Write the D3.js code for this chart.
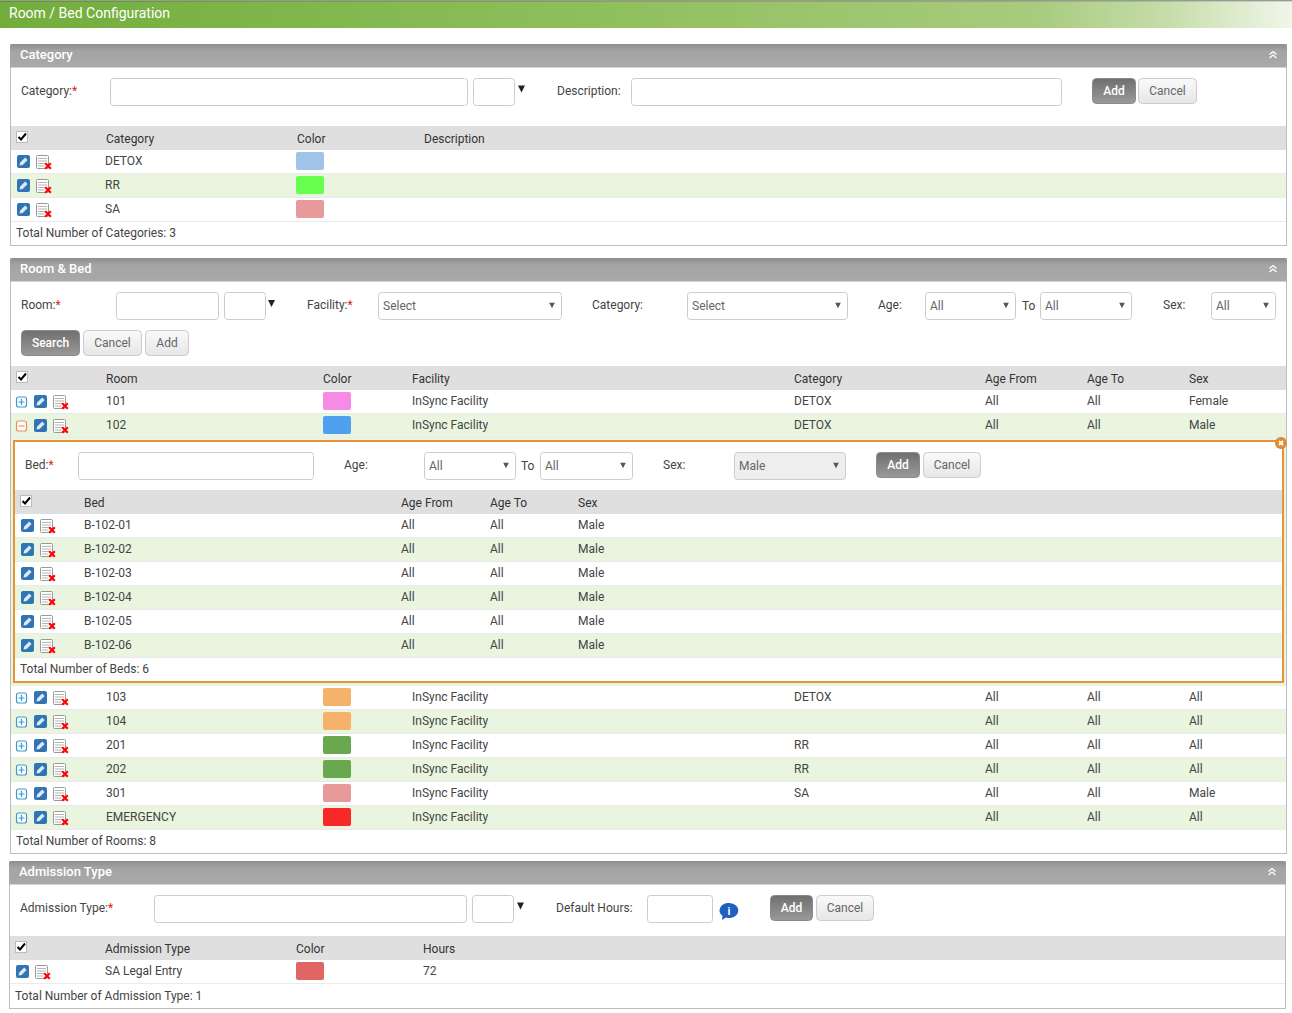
<!DOCTYPE html>
<html><head><meta charset="utf-8">
<script src="https://cdn.jsdelivr.net/npm/d3@7"></script>
<style>
html,body{margin:0;padding:0;background:#fff;overflow:hidden}
svg{display:block}
text{font-family:Roboto,sans-serif;font-size:12px;fill:#444}
</style></head><body>
<script>
// ---- data ----
const pageTitle = "Room / Bed Configuration";
const categoryNames = ["DETOX","RR","SA"];
const categoryColors = ["#a0c4e8","#66ff4d","#e89a9a"];
const roomNamesTop = ["101","102"];
const roomColorsTop = ["#f68ae6","#50a0f0"];
const roomCatsTop = ["DETOX","DETOX"];
const roomSexTop = ["Female","Male"];
const roomNamesBottom = ["103","104","201","202","301","EMERGENCY"];
const roomColorsBottom = ["#f5b26b","#f5b26b","#6aa84f","#6aa84f","#e89a9a","#f82828"];
const roomCatsBottom = ["DETOX","","RR","RR","SA",""];
const roomSexBottom = ["All","All","All","All","Male","All"];
const bedNames = ["B-102-01","B-102-02","B-102-03","B-102-04","B-102-05","B-102-06"];
const admissionNames = ["SA Legal Entry"];
const admissionColors = ["#e06666"];
const admissionHours = ["72"];

const W = 1292, H = 1013;
const svg = d3.select("body").append("svg").attr("width",W).attr("height",H);
const defs = svg.append("defs");
function grad(id,stops,horiz){
  const g = defs.append("linearGradient").attr("id",id).attr("x1",0).attr("y1",0)
    .attr("x2",horiz?1:0).attr("y2",horiz?0:1);
  stops.forEach(s=>g.append("stop").attr("offset",s[0]).attr("stop-color",s[1]));
}
grad("gPage",[[0,"#72ad3c"],[.46,"#8fbf5c"],[.8,"#a8cb7e"],[.9,"#c4dca8"],[1,"#f0f6e8"]],true);
grad("gHead",[[0,"#8e8e8e"],[.3,"#a4a4a4"],[1,"#a9a9a9"]]);
grad("gDark",[[0,"#6f6f6f"],[1,"#9a9a9a"]]);
grad("gLight",[[0,"#fafafa"],[1,"#e6e6e6"]]);

function txt(x,y,s,o={}){
  return svg.append("text").attr("x",x).attr("y",y).text(s)
    .style("font-size",o.size?o.size+"px":null).style("fill",o.fill||null)
    .style("font-weight",o.weight||null);
}
function rect(x,y,w,h,fill,o={}){
  return svg.append("rect").attr("x",x).attr("y",y).attr("width",w).attr("height",h)
    .attr("fill",fill).attr("stroke",o.stroke||"none").attr("rx",o.r||0);
}
function label(x,y,s,req){
  const t = txt(x,y,s);
  if(req) t.append("tspan").text("*").style("fill","#e02020");
}
function input(x0,x1,y0,y1,fill){
  rect(x0+.5,y0+.5,x1-x0-1,y1-y0-1,fill||"#fff",{stroke:"#ccc",r:3});
}
function select(x0,x1,y0,y1,s,fill){
  input(x0,x1,y0,y1,fill);
  txt(x0+5,y0+18,s,{fill:"#666"});
  const cx=x1-10, cy=y0+13.5;
  svg.append("path").attr("d",`M${cx-2.8},${cy-2.8}H${cx+2.8}L${cx},${cy+2.8}Z`).attr("fill","#555");
}
function arrow(cx,cy){
  svg.append("path").attr("d",`M${cx-3.5},${cy-3.5}H${cx+3.5}L${cx},${cy+3.5}Z`).attr("fill","#222");
}
function btnDark(x0,x1,y0,y1,s){
  rect(x0+.5,y0+.5,x1-x0-1,y1-y0-1,"url(#gDark)",{stroke:"#8a8a8a",r:4});
  txt((x0+x1)/2,y0+17,s,{fill:"#fff",weight:500}).attr("text-anchor","middle");
}
function btnLight(x0,x1,y0,y1,s){
  rect(x0+.5,y0+.5,x1-x0-1,y1-y0-1,"url(#gLight)",{stroke:"#ccc",r:4});
  txt((x0+x1)/2,y0+17,s,{fill:"#666"}).attr("text-anchor","middle");
}
function checkbox(x,y){
  rect(x+.5,y+.5,11,11,"#fff",{stroke:"#bbb"});
  svg.append("path").attr("d",`M${x+2.5},${y+6}l2.5,2.5l5,-6`).attr("fill","none").attr("stroke","#000").attr("stroke-width",2);
}
function editIcon(x,y){
  rect(x,y,13,13,"#2f74b5",{r:2});
  svg.append("path").attr("d",`M${x+2.5},${y+10.5}l.7,-3l5,-5l2.4,2.4l-5,5z`).attr("fill","#dfe8f2");
}
function delIcon(x,y){
  rect(x+.5,y+.5,12,13,"#fff",{stroke:"#999",r:1});
  svg.append("path").attr("d",`M${x+2},${y+3.5}h9M${x+2},${y+6}h9M${x+2},${y+8.5}h8M${x+2},${y+11}h6`).attr("stroke","#b4b4b4").attr("fill","none");
  svg.append("path").attr("d",`M${x+9.2},${y+8.2}l5.6,5.6M${x+14.8},${y+8.2}l-5.6,5.6`).attr("stroke","#f00").attr("stroke-width",2.1);
}
function treeIcon(x,y,plus){
  const c = plus?"#3a9bd0":"#ea8f5c";
  rect(x+.5,y+.5,10,10,"#fff",{stroke:c,r:2}).attr("stroke-width",1.2);
  svg.append("path").attr("d",plus?`M${x+2.5},${y+5.5}h6M${x+5.5},${y+2.5}v6`:`M${x+2.5},${y+5.5}h6`).attr("stroke",c).attr("fill","none").attr("stroke-width",1.2);
}
function panelFrame(x0,x1,y0,y1,title,titleX){
  rect(x0+.5,y0+.5,x1-x0-1,y1-y0-1,"#fff",{stroke:"#bdbdbd"});
  svg.append("path").attr("d",`M${x0},${y0+23.5}V${y0+3}a3,3 0 0 1 3,-3H${x1-3}a3,3 0 0 1 3,3V${y0+23.5}Z`).attr("fill","url(#gHead)");
  txt(titleX,y0+15,title,{fill:"#fff",size:13,weight:500});
  const cx=x1-14, cy=y0+11;
  svg.append("path").attr("d",`M${cx-3.5},${cy-.5}l3.5,-3l3.5,3M${cx-3.5},${cy+3}l3.5,-3l3.5,3`).attr("fill","none").attr("stroke","#fff").attr("stroke-width",1.3);
}
function headerRow(x0,x1,y0,y1){ rect(x0,y0,x1-x0,y1-y0,"#e0dfe0"); }

function table(o){
  o.names.forEach((k,i)=>{
    const y=o.y(k), b=o.y.bandwidth();
    const striped=(i+(o.zebra||0))%2===1;
    if(striped) rect(o.xL,y,o.xR-o.xL,b,"#e9f5df");
    svg.append("line").attr("x1",o.xL).attr("x2",o.xR).attr("y1",y+b-.5).attr("y2",y+b-.5).attr("stroke","#eaeaea");
    o.cells(k,i,y);
  });
}

// ---- page header ----
rect(0,0,W,28,"url(#gPage)");
rect(0,0,W,1,"#999");
rect(0,1,W,1,"#000").attr("opacity",.12);
txt(9,18,pageTitle,{fill:"#fff",size:14});

// ---- Category ----
panelFrame(10,1287,44,246,"Category",20);
label(21,95,"Category:",true);
input(110,468,78,106);
input(473,515,78,106);
arrow(521.5,89);
label(557,95,"Description:");
input(631,1062,78,106);
btnDark(1092,1136,78,104,"Add");
btnLight(1138,1197,78,104,"Cancel");
headerRow(11,1286,126,150);
checkbox(16,131);
const catX = d3.scaleOrdinal(["name","color","desc"],[106,297,424]);
txt(catX("name"),143,"Category",{fill:"#333"});
txt(catX("color"),143,"Color",{fill:"#333"});
txt(catX("desc"),143,"Description",{fill:"#333"});
const catY = d3.scaleBand(categoryNames,[150,222]);
table({names:categoryNames,y:catY,xL:11,xR:1286,cells:(k,i,y)=>{
  editIcon(17,y+5); delIcon(36,y+5);
  txt(catX("name")-1,y+15,k);
  rect(catX("color")-1,y+2,28,18,categoryColors[i],{r:2});
}});
txt(16,237,`Total Number of Categories: ${categoryNames.length}`);

// ---- Room & Bed ----
panelFrame(10,1287,258,854,"Room & Bed",20);
label(21,309,"Room:",true);
input(116,219,292,320);
input(224,266,292,320);
arrow(271.5,303.5);
label(307,309,"Facility:",true);
select(378,562,292,320,"Select");
label(592,309,"Category:");
select(687,848,292,320,"Select");
label(878,309,"Age:");
select(925,1016,292,320,"All");
label(1022,310,"To");
select(1040,1132,292,320,"All");
label(1163,309,"Sex:");
select(1211,1276,292,320,"All");
btnDark(21,80,330,356,"Search");
btnLight(83,142,330,356,"Cancel");
btnLight(145,189,330,356,"Add");
headerRow(11,1286,366,390);
checkbox(16,371);
const roomCols = ["Room","Color","Facility","Category","Age From","Age To","Sex"];
const roomX = d3.scaleOrdinal(roomCols,[106,323,412,794,985,1087,1189]);
roomCols.forEach(c=>txt(roomX(c),383,c,{fill:"#333"}));
function roomRow(k,y,color,cat,sex,expanded){
  treeIcon(16,y+6.5,!expanded);
  editIcon(34,y+5); delIcon(53,y+5);
  txt(roomX("Room"),y+15,k);
  rect(roomX("Color"),y+2,28,18,color,{r:2});
  txt(roomX("Facility"),y+15,"InSync Facility");
  txt(roomX("Category"),y+15,cat);
  txt(roomX("Age From"),y+15,"All");
  txt(roomX("Age To"),y+15,"All");
  txt(roomX("Sex"),y+15,sex);
}
const roomYTop = d3.scaleBand(roomNamesTop,[390,438]);
table({names:roomNamesTop,y:roomYTop,xL:11,xR:1286,cells:(k,i,y)=>
  roomRow(k,y,roomColorsTop[i],roomCatsTop[i],roomSexTop[i],k==="102")});

// nested beds
rect(11,438,1275,248,"#e9f5df");
rect(14,441,1269,241,"#fff",{stroke:"#e8923a"}).attr("stroke-width",2);
svg.append("circle").attr("cx",1281).attr("cy",443).attr("r",6).attr("fill","#dd8a3a");
svg.append("path").attr("d","M1279,441l4,4M1283,441l-4,4").attr("stroke","#fff").attr("stroke-width",1.8);
label(25,469,"Bed:",true);
input(78,314,452,480);
label(344,469,"Age:");
select(424,516,452,480,"All");
label(521,470,"To");
select(540,633,452,480,"All");
label(663,469,"Sex:");
select(734,846,452,480,"Male","#eee");
btnDark(876,920,452,478,"Add");
btnLight(923,981,452,478,"Cancel");
headerRow(15,1282,490,514);
checkbox(20,495);
const bedCols = ["Bed","Age From","Age To","Sex"];
const bedX = d3.scaleOrdinal(bedCols,[84,401,490,578]);
bedCols.forEach(c=>txt(bedX(c),507,c,{fill:"#333"}));
const bedY = d3.scaleBand(bedNames,[514,658]);
table({names:bedNames,y:bedY,xL:15,xR:1282,cells:(k,i,y)=>{
  editIcon(21,y+5); delIcon(40,y+5);
  txt(bedX("Bed"),y+15,k);
  txt(bedX("Age From"),y+15,"All");
  txt(bedX("Age To"),y+15,"All");
  txt(bedX("Sex"),y+15,"Male");
}});
txt(20,673,`Total Number of Beds: ${bedNames.length}`);

const roomYBot = d3.scaleBand(roomNamesBottom,[686,830]);
table({names:roomNamesBottom,y:roomYBot,xL:11,xR:1286,cells:(k,i,y)=>
  roomRow(k,y,roomColorsBottom[i],roomCatsBottom[i],roomSexBottom[i],false)});
txt(16,845,`Total Number of Rooms: ${roomNamesTop.length+roomNamesBottom.length}`);

// ---- Admission Type ----
panelFrame(9,1286,861,1009,"Admission Type",19);
label(20,912,"Admission Type:",true);
input(154,467,895,923);
input(472,514,895,923);
arrow(520.5,906);
label(556,912,"Default Hours:");
input(647,713,895,923);
svg.append("path").attr("d","M729,903a9,7.5 0 1 1 -3,14.5l-4,2.5l.5,-4a9,7.5 0 0 1 6.5,-13Z").attr("fill","#1f5fc4");
txt(729,915,"i",{fill:"#fff",weight:700,size:11}).attr("text-anchor","middle");
btnDark(770,813,895,921,"Add");
btnLight(816,874,895,921,"Cancel");
headerRow(10,1285,936,960);
checkbox(15,941);
const admCols = ["Admission Type","Color","Hours"];
const admX = d3.scaleOrdinal(admCols,[105,296,423]);
admCols.forEach(c=>txt(admX(c),953,c,{fill:"#333"}));
const admY = d3.scaleBand(admissionNames,[960,984]);
table({names:admissionNames,y:admY,xL:10,xR:1285,cells:(k,i,y)=>{
  editIcon(16,y+5); delIcon(35,y+5);
  txt(admX("Admission Type"),y+15,k);
  rect(admX("Color"),y+2,28,18,admissionColors[i],{r:2});
  txt(admX("Hours"),y+15,admissionHours[i]);
}});
txt(15,1000,`Total Number of Admission Type: ${admissionNames.length}`);
</script>
</body></html>
